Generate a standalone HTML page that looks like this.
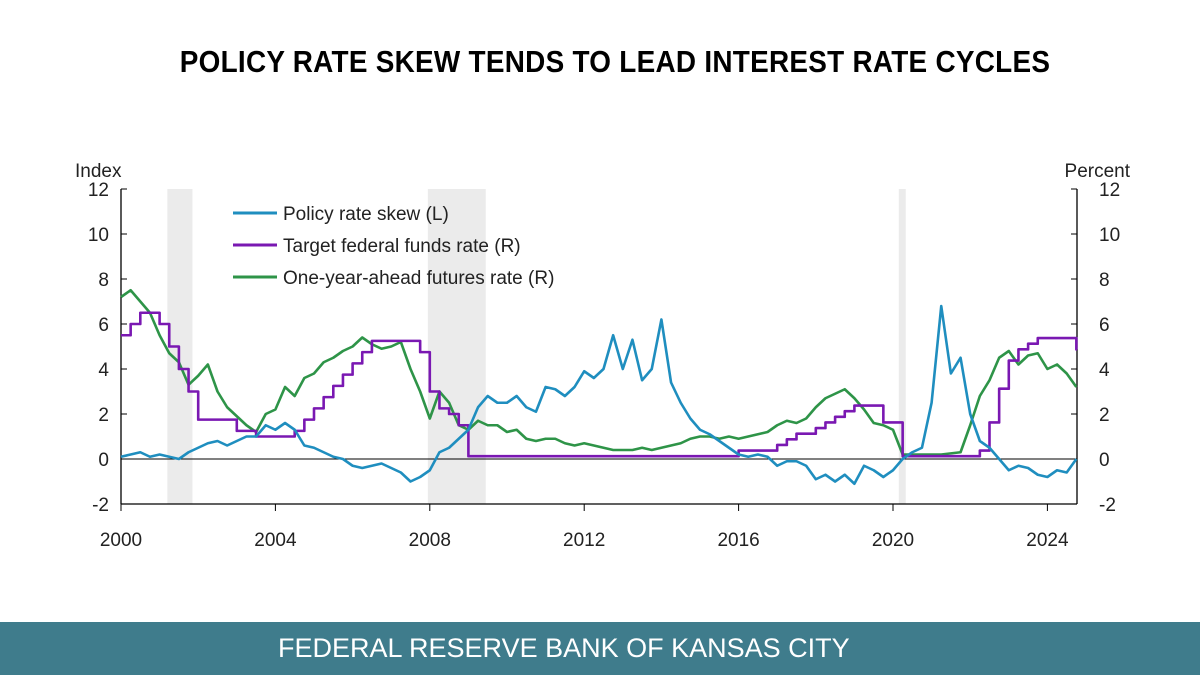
<!DOCTYPE html>
<html><head><meta charset="utf-8"><style>
body{margin:0;width:1200px;height:675px;background:#fff;overflow:hidden;position:relative;font-family:"Liberation Sans",sans-serif}
#title{position:absolute;top:44px;left:0;width:1230px;text-align:center;font-family:"Liberation Sans Narrow","Liberation Sans",sans-serif;font-weight:bold;font-size:31px;letter-spacing:0.3px;color:#000;transform:scaleX(0.9);transform-origin:615px 0}
#footer{position:absolute;left:0;top:622px;width:1200px;height:53px;background:#3f7c8c}
#footer span{position:absolute;left:278px;top:11px;color:#fff;font-size:27px}
</style></head><body>
<div id="title">POLICY RATE SKEW TENDS TO LEAD INTEREST RATE CYCLES</div>
<svg id="chart" width="1200" height="620" style="position:absolute;left:0;top:0"></svg>
<div id="footer"><span>FEDERAL RESERVE BANK OF KANSAS CITY</span></div>
<script>
const startYear = 2000;
const step = 0.25;
const skewValues = [0.1,0.2,0.3,0.1, 0.2,0.1,0.0,0.3, 0.5,0.7,0.8,0.6, 0.8,1.0,1.0,1.5, 1.3,1.6,1.3,0.6, 0.5,0.3,0.1,0.0, -0.3,-0.4,-0.3,-0.2, -0.4,-0.6,-1.0,-0.8, -0.5,0.3,0.5,0.9, 1.3,2.3,2.8,2.5, 2.5,2.8,2.3,2.1, 3.2,3.1,2.8,3.2, 3.9,3.6,4.0,5.5, 4.0,5.3,3.5,4.0, 6.2,3.4,2.5,1.8, 1.3,1.1,0.8,0.5, 0.2,0.1,0.2,0.1, -0.3,-0.1,-0.1,-0.3, -0.9,-0.7,-1.0,-0.7, -1.1,-0.3,-0.5,-0.8, -0.5,0.0,0.3,0.5, 2.5,6.8,3.8,4.5, 2.0,0.8,0.5,0.0, -0.5,-0.3,-0.4,-0.7, -0.8,-0.5,-0.6,0.0];
const fedValues = [5.5,6.0,6.5,6.5, 6.0,5.0,4.0,3.0, 1.75,1.75,1.75,1.75, 1.25,1.25,1.0,1.0, 1.0,1.0,1.25,1.75, 2.25,2.75,3.25,3.75, 4.25,4.75,5.25,5.25, 5.25,5.25,5.25,4.75, 3.0,2.25,2.0,1.5, 0.125,0.125,0.125,0.125, 0.125,0.125,0.125,0.125, 0.125,0.125,0.125,0.125, 0.125,0.125,0.125,0.125, 0.125,0.125,0.125,0.125, 0.125,0.125,0.125,0.125, 0.125,0.125,0.125,0.125, 0.375,0.375,0.375,0.375, 0.625,0.875,1.125,1.125, 1.375,1.625,1.875,2.125, 2.375,2.375,2.375,1.625, 1.625,0.125,0.125,0.125, 0.125,0.125,0.125,0.125, 0.125,0.375,1.625,3.125, 4.375,4.875,5.125,5.375, 5.375,5.375,5.375,4.875];
const futValues = [7.2,7.5,7.0,6.5, 5.5,4.7,4.3,3.3, 3.7,4.2,3.0,2.3, 1.9,1.5,1.2,2.0, 2.2,3.2,2.8,3.6, 3.8,4.3,4.5,4.8, 5.0,5.4,5.1,4.9, 5.0,5.2,4.0,3.0, 1.8,3.0,2.5,1.5, 1.3,1.7,1.5,1.5, 1.2,1.3,0.9,0.8, 0.9,0.9,0.7,0.6, 0.7,0.6,0.5,0.4, 0.4,0.4,0.5,0.4, 0.5,0.6,0.7,0.9, 1.0,1.0,0.9,1.0, 0.9,1.0,1.1,1.2, 1.5,1.7,1.6,1.8, 2.3,2.7,2.9,3.1, 2.7,2.2,1.6,1.5, 1.3,0.2,0.2,0.2, 0.2,0.2,0.25,0.3, 1.5,2.8,3.5,4.5, 4.8,4.2,4.6,4.7, 4.0,4.2,3.8,3.2];
const recessions = [[2001.2,2001.85],[2007.95,2009.45],[2020.15,2020.33]];
const yTicks = [12,10,8,6,4,2,0,-2];
const xTicks = [2000,2004,2008,2012,2016,2020,2024];

const NS="http://www.w3.org/2000/svg";
const svg=document.getElementById('chart');
const X0=121, PXY=38.6, Y0=459, PXV=22.5, XR=1077;
const xs=t=>X0+(t-2000)*PXY;
const ys=v=>Y0-v*PXV;
function mk(tag,attrs,parent){const e=document.createElementNS(NS,tag);for(const k in attrs)e.setAttribute(k,attrs[k]);(parent||svg).appendChild(e);return e;}

recessions.forEach(r=>{
  const e=mk('rect',{x:xs(r[0]),y:ys(12),width:xs(r[1])-xs(r[0]),height:ys(-2)-ys(12),fill:'#ebebeb'});
  
  
});
let a=mk('line',{x1:X0,y1:ys(12),x2:X0,y2:ys(-2),stroke:'#000','stroke-width':1.3});


a=mk('line',{x1:XR,y1:ys(12),x2:XR,y2:ys(-2),stroke:'#000','stroke-width':1.3});


a=mk('line',{x1:X0,y1:ys(-2),x2:XR,y2:ys(-2),stroke:'#000','stroke-width':1.3});


a=mk('line',{x1:X0,y1:ys(0),x2:XR,y2:ys(0),stroke:'#000','stroke-width':1});


yTicks.forEach(v=>{
  mk('line',{x1:X0,y1:ys(v),x2:X0+6,y2:ys(v),stroke:'#000'});
  mk('line',{x1:XR-6,y1:ys(v),x2:XR,y2:ys(v),stroke:'#000'});
  let t=mk('text',{x:X0-12,y:ys(v)+7,'text-anchor':'end','font-size':19,fill:'#222'});t.textContent=v;
  
  
  t=mk('text',{x:XR+22,y:ys(v)+7,'text-anchor':'start','font-size':19,fill:'#222'});t.textContent=v;
  
  
});
xTicks.forEach(y=>{
  mk('line',{x1:xs(y),y1:ys(-2),x2:xs(y),y2:ys(-2)+7,stroke:'#000'});
  const t=mk('text',{x:xs(y),y:ys(-2)+42,'text-anchor':'middle','font-size':19,fill:'#222'});t.textContent=y;
  
  
});
let t=mk('text',{x:75,y:177,'font-size':19,fill:'#222'});t.textContent='Index';


t=mk('text',{x:1130,y:177,'text-anchor':'end','font-size':19,fill:'#222'});t.textContent='Percent';



function series(vals,color,stepped,name){
  let d='';
  vals.forEach((v,i)=>{const x=xs(startYear+i*step),y=ys(v);
    if(i===0)d+='M'+x+','+y;
    else if(stepped)d+='H'+x+'V'+y;
    else d+='L'+x+','+y;});
  if(stepped)d+='H'+XR;
  const p=mk('path',{d:d,fill:'none',stroke:color,'stroke-width':2.6,'stroke-linejoin':'round'});
  
  
}
series(futValues,'#2e9448',false,'futures-rate-line');
series(fedValues,'#7a18b2',true,'fed-funds-line');
series(skewValues,'#1f8ebf',false,'skew-line');

const legend=[['Policy rate skew (L)','#1f8ebf'],['Target federal funds rate (R)','#7a18b2'],['One-year-ahead futures rate (R)','#2e9448']];
legend.forEach((l,i)=>{
  const g=mk('g',{});
  
  
  const y=213+i*32;
  mk('line',{x1:233,y1:y,x2:277,y2:y,stroke:l[1],'stroke-width':3},g);
  const tx=mk('text',{x:283,y:y+7,'font-size':19,fill:'#222'},g);tx.textContent=l[0];
});
</script>
</body></html>
